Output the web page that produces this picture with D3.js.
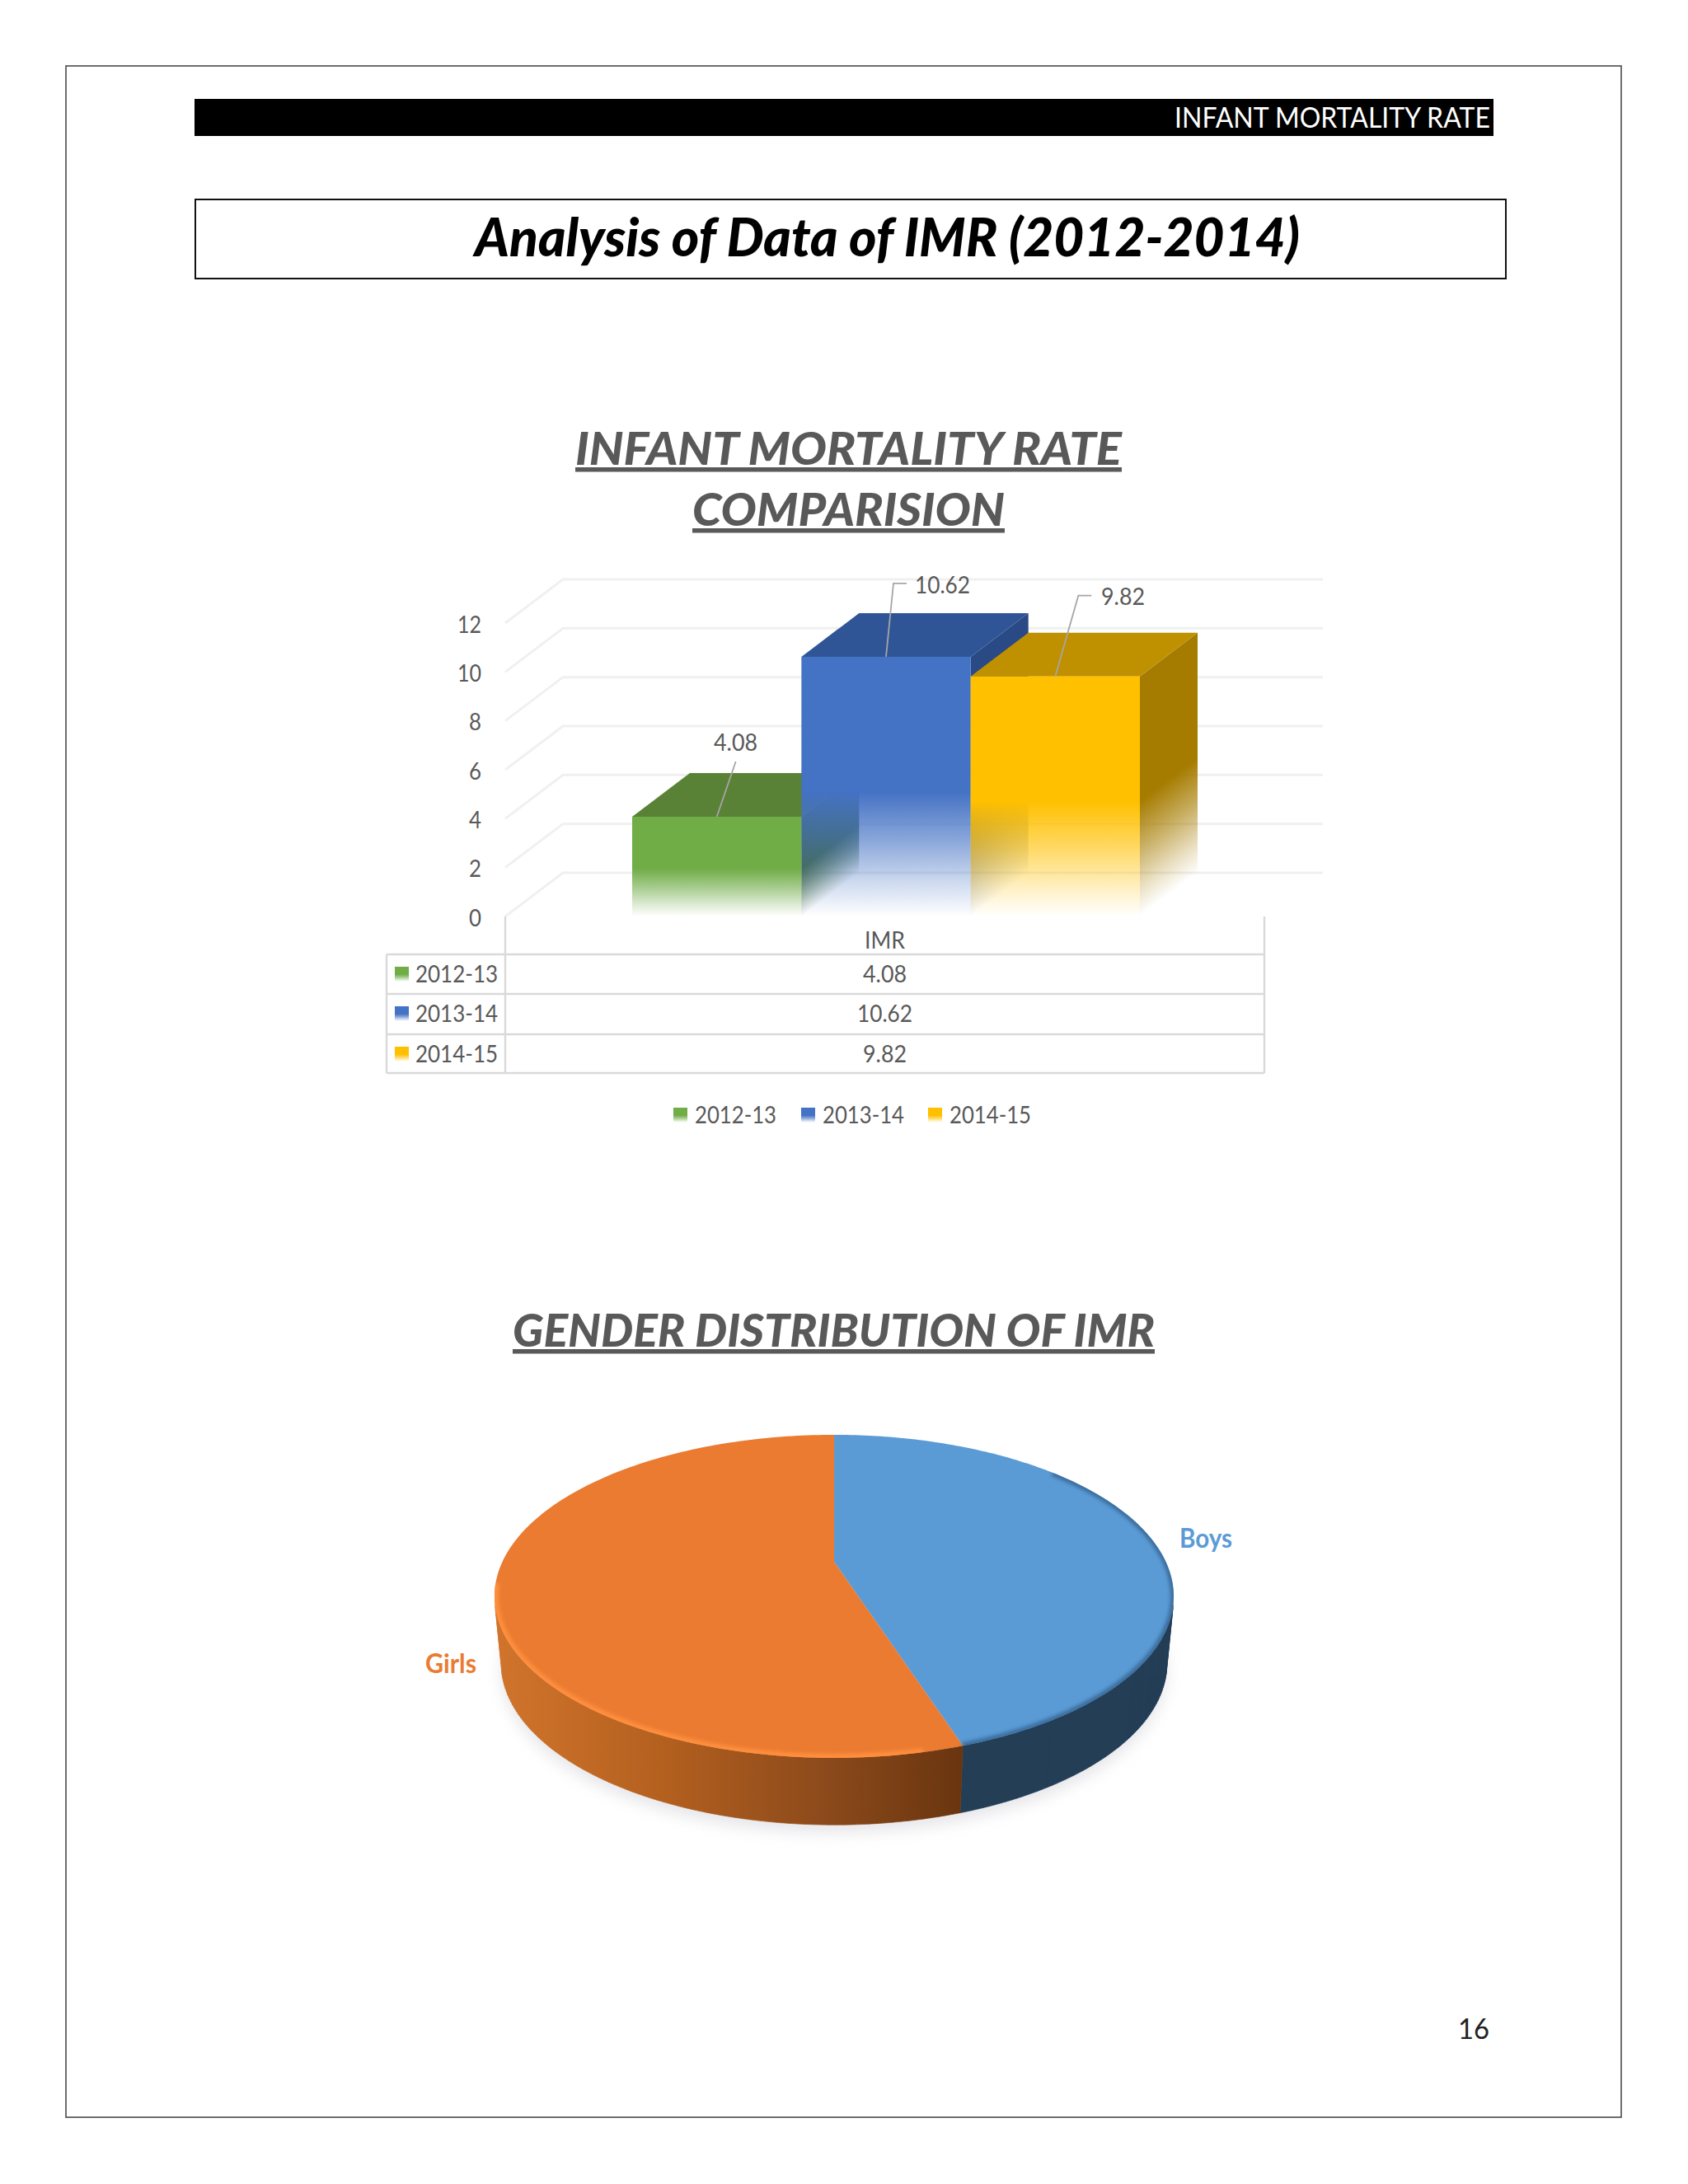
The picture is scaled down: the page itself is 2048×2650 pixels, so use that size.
<!DOCTYPE html>
<html><head><meta charset="utf-8">
<script src="https://cdn.jsdelivr.net/npm/d3@7"></script>
<style>html,body{margin:0;padding:0;background:#fff}svg{display:block}text{font-family:Lato,"Open Sans",sans-serif}</style>
</head><body><svg id="c" width="2048" height="2650"></svg>
<script>
const periods=["2012-13","2013-14","2014-15"];
const imrValues=[4.08,10.62,9.82];
const valueLabels=["4.08","10.62","9.82"];
const axisTicks=[0,2,4,6,8,10,12];
const frontColors=["#70ad47","#4472c4","#ffc000"];
const topColors=["#5a8236","#2f5597","#bf9000"];
const sideColors=["#44692b","#2a4a85","#a67c00"];
const pieLabels=["Boys","Girls"];
const pieValues=[45,55];
const pieColors=["#5b9bd5","#ea7b31"];

const svg=d3.select("#c"),defs=svg.append("defs");
const T=(x,y,s,o={})=>{const t=svg.append("text").attr("x",x).attr("y",y).text(s)
  .attr("font-size",o.fs||28).attr("fill",o.fill||"#595959").attr("text-anchor",o.anchor||"start")
  .attr("dominant-baseline",o.base||"auto");
  if(o.bold)t.attr("font-weight",o.bold===true?700:o.bold); if(o.italic)t.attr("font-style","italic");
  if(o.under)t.attr("text-decoration","underline");
  if(o.len)t.attr("textLength",o.len).attr("lengthAdjust","spacingAndGlyphs");return t;};

// page furniture
svg.append("rect").attr("x",80).attr("y",80).attr("width",1887).attr("height",2489).attr("fill","none").attr("stroke","#4a4a4a").attr("stroke-width",1.6);
svg.append("rect").attr("x",236).attr("y",120).attr("width",1576).attr("height",45).attr("fill","#000");
T(1425,155,"INFANT MORTALITY RATE",{fs:34,fill:"#fff",len:383});
svg.append("rect").attr("x",237).attr("y",242).attr("width",1590).attr("height",96).attr("fill","none").attr("stroke","#111").attr("stroke-width",2);
T(576,311,"Analysis of Data of IMR (2012-2014)",{fs:64,fill:"#000",bold:900,italic:true,len:1001});
T(622,1634,"GENDER DISTRIBUTION OF IMR",{fs:55,bold:900,italic:true,under:true,len:779});
T(698,564,"INFANT MORTALITY RATE",{fs:55,bold:900,italic:true,under:true,len:663});
T(840,638,"COMPARISION",{fs:55,bold:900,italic:true,under:true,len:379});
T(1769,2474,"16",{fs:35,fill:"#222",len:38});

// 3-D column chart
const y=d3.scaleLinear().domain([0,12]).range([1112,756]);
const x=d3.scaleBand().domain(periods).range([767,1383]).padding(0);
const depthX=70,depthY=-53,wallL=613,wallR=1605,tblR=1534,tblL=469;
const grid=svg.append("g").attr("stroke","#f0f0f0").attr("stroke-width",3).attr("fill","none");
axisTicks.forEach(t=>{
  grid.append("path").attr("d",d3.line()([[wallL,y(t)],[wallL+depthX,y(t)+depthY],[wallR,y(t)+depthY]]));
});
const ax=svg.append("g").attr("transform",`translate(584,1)`).call(d3.axisLeft(y).tickValues(axisTicks).tickSize(0).tickPadding(0));
ax.select(".domain").remove();
ax.selectAll("text").attr("font-size",28).attr("fill","#595959").attr("font-family","Lato").attr("dy","0.36em")
  .attr("textLength",d=>d>=10?29:15).attr("lengthAdjust","spacingAndGlyphs");

// fade gradients (same alpha profile for each face)
function fade(id,c){const g=defs.append("linearGradient").attr("id",id).attr("x1",0).attr("y1",0).attr("x2",0).attr("y2",1);
  [[0,1],[.52,1],[.7,.64],[.88,.24],[1,0]].forEach(([o,a])=>g.append("stop").attr("offset",o).attr("stop-color",c).attr("stop-opacity",a));}
periods.forEach((p,i)=>{fade("f"+i,frontColors[i]);fade("s"+i,sideColors[i]);});
const skew=Math.atan2(depthY,depthX)*180/Math.PI;
periods.forEach((p,i)=>{
  const x0=x(p),w=x.bandwidth(),yt=y(imrValues[i]),h=y(0)-yt;
  svg.append("rect").attr("width",depthX).attr("height",h).attr("fill",`url(#s${i})`)
    .attr("transform",`translate(${x0+w},${yt}) skewY(${skew})`);
  svg.append("path").attr("fill",topColors[i]).attr("d",d3.line()([[x0,yt],[x0+depthX,yt+depthY],[x0+w+depthX,yt+depthY],[x0+w,yt]])+"Z");
  svg.append("rect").attr("x",x0).attr("y",yt).attr("width",w).attr("height",h).attr("fill",`url(#f${i})`);
});
// value labels & leaders
const leadOffset=[[23,-67,0],[9,-89,16],[28,-98,16]];
periods.forEach((p,i)=>{
  const cx=x(p)+x.bandwidth()/2,yt=y(imrValues[i]),[dx,dy,run]=leadOffset[i];
  const pts=[[cx,yt],[cx+dx,yt+dy]]; if(run)pts.push([cx+dx+run,yt+dy]);
  svg.append("path").attr("fill","none").attr("stroke","#a6a6a6").attr("stroke-width",1.8).attr("d",d3.line()(pts));
});
T(866,911,valueLabels[0],{len:53});
T(1110,720,valueLabels[1],{len:67});
T(1336,734,valueLabels[2],{len:53});

// data table
const rowY=[1158,1206,1255,1302];
const tg=svg.append("g").attr("stroke","#d9d9d9").attr("stroke-width",2.4).attr("fill","none");
rowY.forEach(r=>tg.append("line").attr("x1",tblL).attr("x2",tblR).attr("y1",r).attr("y2",r));
tg.append("line").attr("x1",wallL).attr("x2",wallL).attr("y1",y(0)).attr("y2",1302);
tg.append("line").attr("x1",tblR).attr("x2",tblR).attr("y1",y(0)).attr("y2",1302);
tg.append("line").attr("x1",tblL).attr("x2",tblL).attr("y1",1158).attr("y2",1302);
T(1049,1151,"IMR",{len:49});
periods.forEach((p,i)=>{
  const yy=rowY[i]+34;
  svg.append("rect").attr("x",479).attr("y",yy-19).attr("width",17).attr("height",18).attr("fill",`url(#f${i})`);
  T(504,yy,p,{len:100});
  T(1073.5-[53,67,53][i]/2,yy,valueLabels[i],{len:[53,67,53][i]});
});
const legX=[817,972,1126];
periods.forEach((p,i)=>{
  svg.append("rect").attr("x",legX[i]).attr("y",1344).attr("width",17).attr("height",18).attr("fill",`url(#f${i})`);
  T(legX[i]+26,1363,p,{len:99});
});

// 3-D pie
const cx=1012,apexY=1895,K=402.5,c=0.214,B=187,depth=83,shrink=0.98;
const proj=(a,d=0)=>{const u=Math.sin(a),v=-Math.cos(a),w=1-c*v,s=d?shrink:1;return [cx+s*K*u/w,apexY+B*v/w+d*s];};
const pie=d3.pie().sort(null).startAngle(0).endAngle(2*Math.PI)(pieValues);
const arcPts=(a0,a1,d=0)=>d3.range(0,181).map(i=>proj(a0+(a1-a0)*i/180,d));
const line=d3.line();
const f1=defs.append("filter").attr("id","b6").attr("x","-20%").attr("y","-20%").attr("width","140%").attr("height","140%");f1.append("feGaussianBlur").attr("stdDeviation",9);
const f2=defs.append("filter").attr("id","b2").attr("x","-10%").attr("y","-10%").attr("width","120%").attr("height","120%");f2.append("feGaussianBlur").attr("stdDeviation",2);
svg.append("path").attr("fill","#cfcfd6").attr("opacity",.5).attr("filter","url(#b6)")
  .attr("d",line(arcPts(0,2*Math.PI,depth+10))+"Z");
const sg=defs.append("linearGradient").attr("id","girlSide").attr("gradientUnits","userSpaceOnUse").attr("x1",606).attr("x2",1168).attr("y1",0).attr("y2",0);
[[0,"#d0742c"],[.35,"#b4601f"],[.7,"#8c4a1b"],[1,"#69350f"]].forEach(([o,col])=>sg.append("stop").attr("offset",o).attr("stop-color",col));
const sideFill=["#243e56","url(#girlSide)"];
// side wall built from front-facing quads only, so the silhouette is filled
pie.forEach((d,i)=>{
  const top=arcPts(d.startAngle,d.endAngle),bot=arcPts(d.startAngle,d.endAngle,depth);
  const quads=d3.range(top.length-1).map(j=>[top[j],top[j+1],bot[j+1],bot[j]])
    .filter(q=>d3.polygonArea(q)<0||d3.polygonArea(q)>0);
  const mid=proj(Math.PI,0),mid2=proj(Math.PI+.01,0),front=d3.polygonArea([mid,mid2,proj(Math.PI+.01,depth),proj(Math.PI,depth)]);
  const d0=quads.filter(q=>Math.sign(d3.polygonArea(q))===Math.sign(front)).map(q=>line(q)+"Z").join("");
  svg.append("path").attr("fill",sideFill[i]).attr("stroke",sideFill[i]).attr("stroke-width",.6).attr("d",d0);
});
pie.forEach((d,i)=>{
  svg.append("path").attr("fill",pieColors[i]).attr("d",line([[cx,apexY]].concat(arcPts(d.startAngle,d.endAngle)))+"Z");
});
// bevelled rim, kept inside the disc
const rimClip=defs.append("clipPath").attr("id","disc");rimClip.append("path").attr("d",line(arcPts(0,2*Math.PI))+"Z");
const rim=svg.append("g").attr("clip-path","url(#disc)");
rim.append("path").attr("fill","none").attr("stroke","#ff8f3e").attr("stroke-width",10).attr("filter","url(#b2)")
  .attr("d",line(arcPts(pie[1].startAngle+.1,pie[1].startAngle+1.75)));
rim.append("path").attr("fill","none").attr("stroke","#2d5a85").attr("stroke-width",8).attr("filter","url(#b2)").attr("opacity",.7)
  .attr("d",line(arcPts(pie[0].startAngle+.85,pie[0].endAngle)));
pie.forEach((d,i)=>{
  const lx=[1431,516][i],ly=[1878,2030][i],ln=[64,62][i];
  T(lx,ly,pieLabels[i],{fs:33,bold:true,fill:pieColors[i],len:ln});
});
</script></body></html>
